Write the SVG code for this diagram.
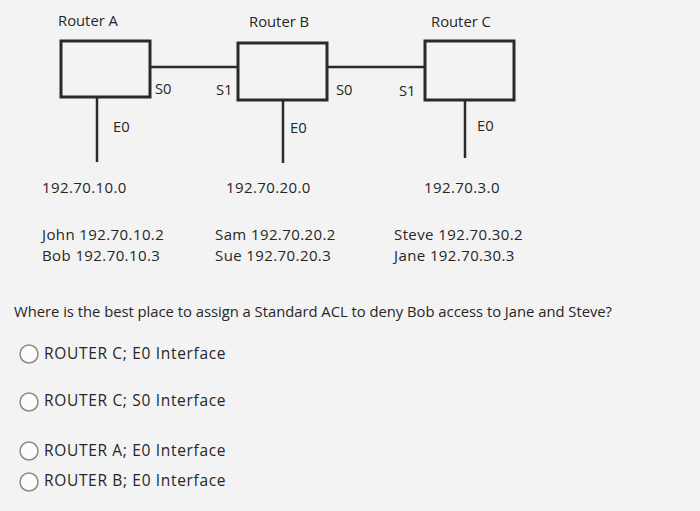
<svg xmlns="http://www.w3.org/2000/svg" width="700" height="511" viewBox="0 0 700 511">
<style>
text{font-family:"Open Sans","Liberation Sans",sans-serif;fill:#262626;font-size:14.8px}
.a{font-size:15px;letter-spacing:0.4px}
.o{font-size:15.5px;letter-spacing:0.5px}
.box{fill:none;stroke:#2a2a2a;stroke-width:3}
.ln{stroke:#2a2a2a;stroke-width:2.5;fill:none}
.rb{fill:#fbfbfb;stroke:#8a8a8a;stroke-width:1.5}
</style>
<rect width="700" height="511" fill="#f3f3f3"/>
<g id="connectors">
<line class="ln" x1="150" y1="67" x2="238" y2="67"/>
<line class="ln" x1="327" y1="67" x2="425" y2="67"/>
<line class="ln" x1="97" y1="97" x2="97" y2="162"/>
<line class="ln" x1="283" y1="100" x2="283" y2="163"/>
<line class="ln" x1="465" y1="100" x2="465" y2="158"/>
</g>
<g id="routerA"><text x="58" y="26">Router A</text><rect class="box" x="61" y="41" width="89" height="56"/><text x="155" y="94">S0</text><text x="113" y="132">E0</text></g>
<g id="routerB"><text x="249" y="27">Router B</text><rect class="box" x="238" y="43" width="89" height="57"/><text x="216" y="95">S1</text><text x="290" y="133">E0</text><text x="336" y="95">S0</text></g>
<g id="routerC"><text x="431" y="27">Router C</text><rect class="box" x="425" y="41" width="89" height="59"/><text x="399" y="96">S1</text><text x="477" y="131">E0</text></g>
<g id="netA"><text class="a" x="42" y="193">192.70.10.0</text><text class="a" x="42" y="240">John 192.70.10.2</text><text class="a" x="42" y="261">Bob 192.70.10.3</text></g>
<g id="netB"><text class="a" x="226" y="193">192.70.20.0</text><text class="a" x="215" y="240">Sam 192.70.20.2</text><text class="a" x="215" y="261">Sue 192.70.20.3</text></g>
<g id="netC"><text class="a" x="424" y="193">192.70.3.0</text><text class="a" x="394" y="240">Steve 192.70.30.2</text><text class="a" x="394" y="261">Jane 192.70.30.3</text></g>
<g id="question"><text x="14" y="317" textLength="598">Where is the best place to assign a Standard ACL to deny Bob access to Jane and Steve?</text>
<circle class="rb" cx="29" cy="354" r="9"/><text class="o" x="44" y="359" textLength="182">ROUTER C;  E0 Interface</text>
<circle class="rb" cx="29" cy="402" r="9"/><text class="o" x="44" y="406" textLength="182">ROUTER C;  S0 Interface</text>
<circle class="rb" cx="29" cy="451" r="9"/><text class="o" x="44" y="456" textLength="182">ROUTER A;  E0 Interface</text>
<circle class="rb" cx="29" cy="482" r="9"/><text class="o" x="44" y="486" textLength="182">ROUTER B;  E0 Interface</text></g>
</svg>
